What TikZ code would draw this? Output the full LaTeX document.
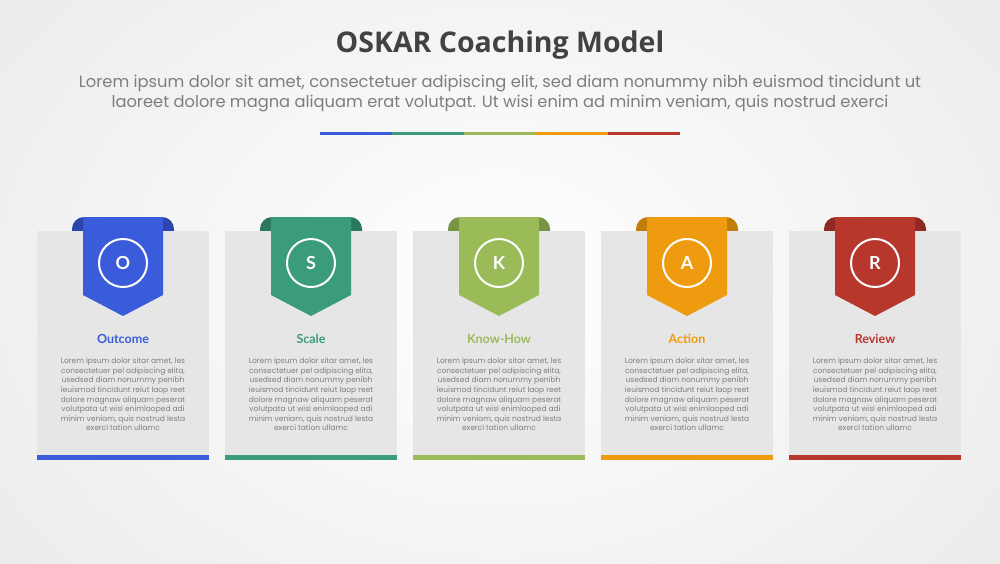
\documentclass[tikz,border=0pt]{standalone}
\usepackage{fontspec}
\setmainfont{Poppins}
\newfontfamily\titlefont{Open Sans}
\newfontfamily\headfont{Lato}
\definecolor{bgout}{HTML}{EBEBEB}
\definecolor{cardfill}{HTML}{E6E6E6}
\definecolor{titlegray}{HTML}{424242}
\definecolor{textgray}{HTML}{7E7E7E}
\definecolor{cblue}{HTML}{3A5CDB}
\definecolor{dblue}{HTML}{2A45AE}
\definecolor{cteal}{HTML}{3A9B7D}
\definecolor{dteal}{HTML}{2B7861}
\definecolor{cgreen}{HTML}{9BBB59}
\definecolor{dgreen}{HTML}{789445}
\definecolor{corange}{HTML}{EE9B0F}
\definecolor{dorange}{HTML}{C27C08}
\definecolor{cred}{HTML}{B8372D}
\definecolor{dred}{HTML}{8F2921}
\begin{document}
\begin{tikzpicture}[x=1pt,y=-1pt,
  cardbox/.style={fill=cardfill, minimum width=172pt, minimum height=229pt, inner sep=0pt, outer sep=0pt},
  badge/.style={circle, draw=white, line width=2pt, minimum size=48pt, inner sep=0pt, text=white, font=\headfont\bfseries\fontsize{18}{21}\selectfont},
  cardtitle/.style={font=\headfont\bfseries\fontsize{12.5}{15}\selectfont},
  cardtext/.style={text=textgray, align=center, font=\fontsize{7.5}{9.6}\selectfont, inner sep=0pt}
]
\useasboundingbox (0,0) rectangle (1000,563);
\fill[bgout] (0,0) rectangle (1000,563);
\shade[inner color=white, outer color=bgout] (-150,-200) rectangle (1150,763);

\node[text=titlegray, font=\titlefont\bfseries\fontsize{28.5}{33}\selectfont] (title) at (500,45) {OSKAR Coaching Model};
\node[text=textgray, align=center, font=\fontsize{16.3}{20}\selectfont] (subtitle) at (500,93)
  {Lorem ipsum dolor sit amet, consectetuer adipiscing elit, sed diam nonummy nibh euismod tincidunt ut\\
   laoreet dolore magna aliquam erat volutpat. Ut wisi enim ad minim veniam, quis nostrud exerci};

\coordinate (l0) at (320,133);
\coordinate (l1) at (392,133);
\coordinate (l2) at (464,133);
\coordinate (l3) at (536,133);
\coordinate (l4) at (608,133);
\coordinate (l5) at (680,133);
\draw[cblue, line width=3pt] (l0) -- (l1);
\draw[cteal, line width=3pt] (l1) -- (l2);
\draw[cgreen, line width=3pt] (l2) -- (l3);
\draw[corange, line width=3pt] (l3) -- (l4);
\draw[cred, line width=3pt] (l4) -- (l5);

\foreach \i/\c/\d/\L/\T in {1/cblue/dblue/O/Outcome, 2/cteal/dteal/S/Scale, 3/cgreen/dgreen/K/Know-How, 4/corange/dorange/A/Action, 5/cred/dred/R/Review}{
  \pgfmathsetmacro\cx{123+188*(\i-1)}
  % ears
  \fill[\d, rounded corners=12pt] (\cx-51,217) rectangle (\cx-25,245);
  \fill[\d, rounded corners=12pt] (\cx+25,217) rectangle (\cx+51,245);
  % card
  \node[cardbox] (card\i) at (\cx,345.5) {};
  \fill[\c] (card\i.south west) rectangle ++(172,-5);
  % ribbon
  \fill[\c] (\cx-40,217) -- (\cx+40,217) -- (\cx+40,295) -- (\cx,316) -- (\cx-40,295) -- cycle;
  \node[badge] (badge\i) at (\cx,263) {\L};
  \node[cardtitle, text=\c] (head\i) at (\cx,339) {\T};
  \node[cardtext] (body\i) at (\cx,394.5) {Lorem ipsum dolor sitar amet, les\\consectetuer pel adipiscing elita,\\usedsed diam nonummy penibh\\ieuismod tincidunt reiut laop reet\\dolore magnaw aliquam peserat\\volutpata ut wisi enimlaoped adi\\minim veniam, quis nostrud lesta\\exerci tation ullamc};
}
\end{tikzpicture}
\end{document}
